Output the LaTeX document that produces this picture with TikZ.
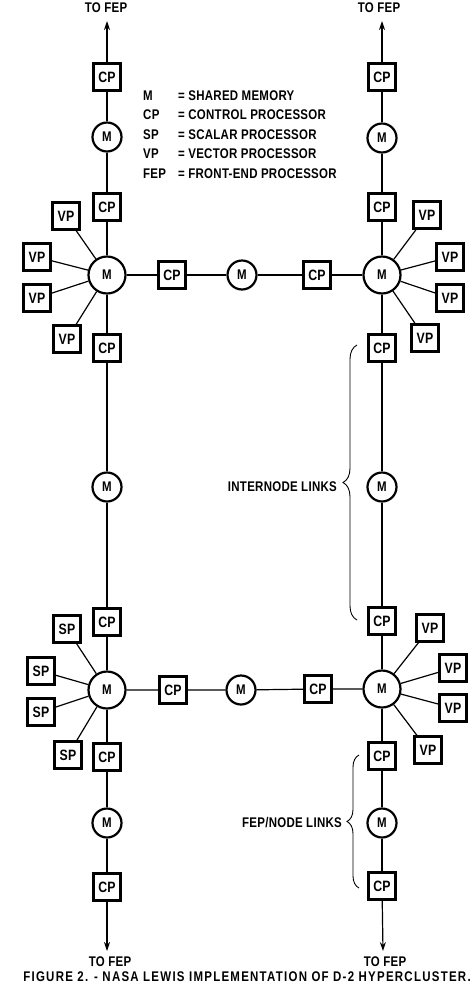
\documentclass[tikz,border=0pt]{standalone}
\usepackage{fontspec}
\IfFontExistsTF{Liberation Sans Narrow}
  {\setmainfont{Liberation Sans Narrow}[LetterSpace=2]}
  {\setmainfont{Liberation Sans}[FakeStretch=0.82, LetterSpace=2]}
\usetikzlibrary{arrows.meta,decorations.pathreplacing}

\tikzset{
  proc/.style={draw, line width=2.4pt, minimum width=27pt, minimum height=27pt,
    inner sep=0pt, font=\fontsize{15}{15}\selectfont\bfseries},
  mem/.style={draw, circle, line width=2.2pt, minimum size=29pt, inner sep=0pt,
    font=\fontsize{14}{14}\selectfont\bfseries},
  bigmem/.style={mem, minimum size=37pt},
  link/.style={line width=1.2pt},
  tofep/.style={link, -{Stealth[length=9pt,width=6pt]}},
  lbl/.style={font=\fontsize{14}{14}\selectfont\bfseries, inner sep=0pt},
  brace/.style={line width=0.9pt, decorate, decoration={brace, amplitude=#1}},
}

\begin{document}
\begin{tikzpicture}[x=1pt, y=-1pt]
    \useasboundingbox (0,0) rectangle (474,994);
    % left column
    \node[lbl] (fepTL) at (106,8) {TO FEP};
    \coordinate (tipTL) at (107,21);
    \node[proc] (cpL1) at (107,77) {CP};
    \node[mem] (mL1) at (107,137) {M};
    \node[proc] (cpL2) at (107,207) {CP};
    \node[bigmem] (hubTL) at (107,275) {M};
    \node[proc] (cpL3) at (107,348) {CP};
    \node[mem] (mL2) at (107,487) {M};
    \node[proc] (cpL4) at (107,622) {CP};
    \node[bigmem] (hubBL) at (107,690) {M};
    \node[proc] (cpL5) at (107,757) {CP};
    \node[mem] (mL3) at (107,823) {M};
    \node[proc] (cpL6) at (107,887) {CP};
    \coordinate (tipBL) at (107,951);
    \node[lbl] (fepBL) at (110,962) {TO FEP};
    % right column
    \node[lbl] (fepTR) at (379,8) {TO FEP};
    \coordinate (tipTR) at (382,21);
    \node[proc] (cpR1) at (382,77) {CP};
    \node[mem] (mR1) at (382,138) {M};
    \node[proc] (cpR2) at (382,207) {CP};
    \node[bigmem] (hubTR) at (382,275) {M};
    \node[proc] (cpR3) at (382,348) {CP};
    \node[mem] (mR2) at (382,487) {M};
    \node[proc] (cpR4) at (382,621) {CP};
    \node[bigmem] (hubBR) at (382,689) {M};
    \node[proc] (cpR5) at (382,756) {CP};
    \node[mem] (mR3) at (382,823) {M};
    \node[proc] (cpR6) at (382,886) {CP};
    \coordinate (tipBR) at (383,951);
    \node[lbl] (fepBR) at (385,962) {TO FEP};
    % rows
    \node[proc] (cpT1) at (172,275) {CP};
    \node[mem] (mT) at (242,275) {M};
    \node[proc] (cpT2) at (317,275) {CP};
    \node[proc] (cpB1) at (173,690) {CP};
    \node[mem] (mB) at (241,690) {M};
    \node[proc] (cpB2) at (318,689) {CP};
    % processors round the hubs
    \node[proc] (vpTL1) at (66,216) {VP};\node[proc] (vpTL2) at (37,257) {VP};
    \node[proc] (vpTL3) at (37,298) {VP};\node[proc] (vpTL4) at (67,339) {VP};
    \node[proc] (vpTR1) at (427,215) {VP};\node[proc] (vpTR2) at (450,257) {VP};
    \node[proc] (vpTR3) at (450,298) {VP};\node[proc] (vpTR4) at (425,338) {VP};
    \node[proc] (spBL1) at (67,629) {SP};\node[proc] (spBL2) at (41,671) {SP};
    \node[proc] (spBL3) at (41,712) {SP};\node[proc] (spBL4) at (68,755) {SP};
    \node[proc] (vpBR1) at (430,628) {VP};\node[proc] (vpBR2) at (453,668) {VP};
    \node[proc] (vpBR3) at (453,708) {VP};\node[proc] (vpBR4) at (428,750) {VP};

    % links
    \draw[tofep] (cpL1) -- (tipTL);\draw[tofep] (cpR1) -- (tipTR);
    \draw[tofep] (cpL6) -- (tipBL);\draw[tofep] (cpR6) -- (tipBR);
    \draw[link] (cpL1) -- (mL1) -- (cpL2) -- (hubTL) -- (cpL3) -- (mL2) -- (cpL4) -- (hubBL) -- (cpL5) -- (mL3) -- (cpL6);
    \draw[link] (cpR1) -- (mR1) -- (cpR2) -- (hubTR) -- (cpR3) -- (mR2) -- (cpR4) -- (hubBR) -- (cpR5) -- (mR3) -- (cpR6);
    \draw[link] (hubTL) -- (cpT1) -- (mT) -- (cpT2) -- (hubTR);
    \draw[link] (hubBL) -- (cpB1) -- (mB) -- (cpB2) -- (hubBR);
    \draw[link] (hubTL) -- (vpTL1);\draw[link] (hubTL) -- (vpTL2);\draw[link] (hubTL) -- (vpTL3);\draw[link] (hubTL) -- (vpTL4);
    \draw[link] (hubTR) -- (vpTR1);\draw[link] (hubTR) -- (vpTR2);\draw[link] (hubTR) -- (vpTR3);\draw[link] (hubTR) -- (vpTR4);
    \draw[link] (hubBL) -- (spBL1);\draw[link] (hubBL) -- (spBL2);\draw[link] (hubBL) -- (spBL3);\draw[link] (hubBL) -- (spBL4);
    \draw[link] (hubBR) -- (vpBR1);\draw[link] (hubBR) -- (vpBR2);\draw[link] (hubBR) -- (vpBR3);\draw[link] (hubBR) -- (vpBR4);

    % legend
    \node[lbl, anchor=base west] (keyM) at (143,100) {\makebox[35pt][l]{M}= SHARED MEMORY};
    \node[lbl, anchor=base west] (keyCP) at (143,119.5) {\makebox[35pt][l]{CP}= CONTROL PROCESSOR};
    \node[lbl, anchor=base west] (keySP) at (143,139) {\makebox[35pt][l]{SP}= SCALAR PROCESSOR};
    \node[lbl, anchor=base west] (keyVP) at (143,158.5) {\makebox[35pt][l]{VP}= VECTOR PROCESSOR};
    \node[lbl, anchor=base west] (keyFEP) at (143,178) {\makebox[35pt][l]{FEP}= FRONT-END PROCESSOR};

    % braces
    \coordinate (brA1) at (357,620);\coordinate (brA2) at (357,345);
    \draw[brace=14pt] (brA1) -- (brA2);
    \node[lbl, anchor=east] (internode) at (337,487) {INTERNODE LINKS};
    \coordinate (brB1) at (359,888);\coordinate (brB2) at (359,755);
    \draw[brace=12pt] (brB1) -- (brB2);
    \node[lbl, anchor=east] (fepnode) at (342,823) {FEP/NODE LINKS};

    % caption
    \node[lbl] (caption) at (247,977) {\addfontfeature{LetterSpace=9}FIGURE 2. - NASA LEWIS IMPLEMENTATION OF D-2 HYPERCLUSTER.};
\end{tikzpicture}
\end{document}
